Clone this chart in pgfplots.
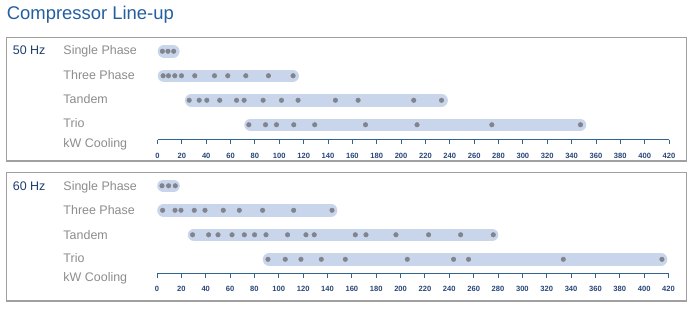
\documentclass[border=0pt]{standalone}
\usepackage{fontspec}
\setmainfont{Liberation Sans}
\usepackage{pgfplots}
\pgfplotsset{compat=1.18}
\definecolor{titleblue}{RGB}{35,95,160}
\definecolor{hzblue}{RGB}{30,62,112}
\definecolor{labgray}{RGB}{140,140,140}
\definecolor{pill}{RGB}{201,213,234}
\definecolor{dotgray}{RGB}{128,132,142}
\definecolor{axisblue}{RGB}{50,100,145}
\definecolor{ticktext}{RGB}{40,70,120}
\definecolor{boxgray}{RGB}{160,160,160}
\pgfplotsset{lineup/.style={
  x=1.2179bp, y=24.5bp, xmin=0, xmax=420,
  axis x line*=bottom, axis y line=none,
  xtick={0,20,...,420}, ytick=\empty,
  tick align=outside, major tick length=4.5bp,
  x axis line style={axisblue, line width=0.9bp},
  xtick style={axisblue, line width=0.9bp},
  xticklabel style={font=\fontsize{7.6}{7.6}\selectfont\bfseries, text=ticktext, inner sep=1bp, yshift=-8bp},
  /pgf/number format/assume math mode=true,
  clip=false, anchor=south west,
},
pillst/.style={pill, line width=12.5bp, line cap=round, no marks},
dotst/.style={only marks, mark=*, mark size=2.3bp, dotgray, mark options={draw=none, fill=dotgray}},
}
\begin{document}
\begin{tikzpicture}[x=1bp,y=1bp]
\useasboundingbox (0,0) rectangle (698,-312);
\coordinate (A1) at (157.5,-139.7);
\coordinate (A2) at (157,-273);
\node[anchor=base west, inner sep=0, text=titleblue, font=\fontsize{18.5}{18.5}\selectfont] at (6.7,-19.3) {Compressor Line-up};
% panel boxes
\draw[boxgray, line width=1.2bp] (6.7,-37.3) rectangle (686.5,-161);
\draw[boxgray, line width=1.2bp] (6.7,-172.5) rectangle (686.5,-301);
% labels
\begin{scope}[every node/.style={anchor=base west, inner sep=0, font=\fontsize{12.5}{12.5}\selectfont}]
\node[text=hzblue] at (12.7,-54.5) {50 Hz};
\node[text=labgray] at (63.3,-54.5) {Single Phase};
\node[text=labgray] at (63.3,-79.8) {Three Phase};
\node[text=labgray] at (63.3,-103.8) {Tandem};
\node[text=labgray] at (63.3,-127.5) {Trio};
\node[text=labgray] at (63.3,-147) {kW Cooling};
\node[text=hzblue] at (12.7,-190) {60 Hz};
\node[text=labgray] at (63.3,-190) {Single Phase};
\node[text=labgray] at (63.3,-214.8) {Three Phase};
\node[text=labgray] at (63.3,-239.5) {Tandem};
\node[text=labgray] at (63.3,-262.8) {Trio};
\node[text=labgray] at (63.3,-281.8) {kW Cooling};
\end{scope}
% 50 Hz
\begin{axis}[lineup, at={(A1)}, ymin=0.39, ymax=4.5]
\addplot[pillst] coordinates {(5.3,4) (13,4)};
\addplot[pillst] coordinates {(5.3,3) (111,3)};
\addplot[pillst] coordinates {(27.7,2) (233.3,2)};
\addplot[pillst] coordinates {(76.4,1) (346.9,1)};
\addplot[dotst] coordinates {(4,4) (8.6,4) (13.3,4)};
\addplot[dotst] coordinates {(4.6,3) (9.0,3) (14.2,3) (19.7,3) (30.6,3) (46.8,3) (57.7,3) (72.5,3) (91.1,3) (111.3,3)};
\addplot[dotst] coordinates {(26,2) (34.2,2) (40.5,2) (51.1,2) (64.9,2) (71.1,2) (86.7,2) (101.8,2) (115.4,2) (146.1,2) (164.7,2) (210.4,2) (233.2,2)};
\addplot[dotst] coordinates {(75,1) (88.7,1) (97.7,1) (111.9,1) (129.1,1) (170.8,1) (213.1,1) (274.5,1) (347.3,1)};
\end{axis}
% 60 Hz
\begin{axis}[lineup, at={(A2)}, ymin=0.44, ymax=4.5]
\addplot[pillst] coordinates {(5.3,4) (13.6,4)};
\addplot[pillst] coordinates {(5.3,3) (143,3)};
\addplot[pillst] coordinates {(30.4,2) (275.2,2)};
\addplot[pillst] coordinates {(92,1) (413.9,1)};
\addplot[dotst] coordinates {(4.1,4) (9.5,4) (15.0,4)};
\addplot[dotst] coordinates {(4.6,3) (14.8,3) (19.7,3) (30.6,3) (39.4,3) (54.4,3) (67.6,3) (86.7,3) (112.2,3) (143.7,3)};
\addplot[dotst] coordinates {(29.2,2) (42.4,2) (50.1,2) (61.6,2) (71.7,2) (80.1,2) (89.5,2) (107.2,2) (122.3,2) (129.1,2) (162.8,2) (171.6,2) (196.2,2) (223,2) (249.3,2) (276.1,2)};
\addplot[dotst] coordinates {(91.1,1) (105.3,1) (118.2,1) (134.9,1) (154.6,1) (205.5,1) (243.5,1) (255.8,1) (333.6,1) (414.6,1)};
\end{axis}
\end{tikzpicture}
\end{document}
